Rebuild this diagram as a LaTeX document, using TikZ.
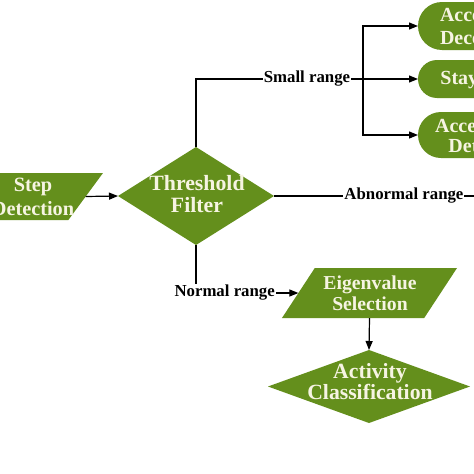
\documentclass[tikz,border=0pt]{standalone}
\usepackage{fontspec}
\setmainfont{Liberation Serif}
\usetikzlibrary{shapes.geometric,arrows.meta}
\definecolor{leaf}{RGB}{100,143,28}
\definecolor{cream}{RGB}{246,244,226}
\begin{document}
\begin{tikzpicture}[x=1pt,y=-1pt,
  shp/.style={fill=leaf, draw=none, inner sep=0pt, outer sep=0pt},
  para/.style={shp, trapezium, trapezium stretches=true},
  dia/.style={shp, diamond},
  pill/.style={shp, rectangle, minimum width=142pt},
  txt/.style={text=cream, align=center, inner sep=0pt},
  lbl/.style={fill=white, text=black, font=\bfseries\fontsize{16.8}{18}\selectfont, inner sep=1pt},
  line/.style={draw=black, line width=1.2pt},
  arr/.style={line, -{Triangle[length=9pt,width=7pt]}}]
\useasboundingbox (0,0) rectangle (474,474);
\clip (0,0) rectangle (474,474);
\fill[white] (0,0) rectangle (474,474);

% shapes
\node[para, trapezium left angle=63.9, trapezium right angle=116.1,
      minimum width=140pt, minimum height=47pt] (sd) at (33,196.5) {\phantom{\rule{2pt}{2pt}}};
\node[txt, font=\bfseries\fontsize{20.3}{24}\selectfont] (sdt) at (33,197) {Step\\Detection};

\node[dia, minimum width=156pt, minimum height=98pt] (tf) at (196,196) {};
\node[txt, font=\bfseries\fontsize{21.8}{22}\selectfont] (tft) at (197,194) {Threshold\\Filter};

\node[pill, minimum height=48pt, rounded corners=24pt] (acc1) at (489,26) {};
\node[txt, font=\bfseries\fontsize{20}{23}\selectfont] (acc1t) at (485,26) {Accelerate\\Decelerate};

\node[pill, minimum height=38pt, rounded corners=19pt] (stay) at (489,79) {};
\node[txt, font=\bfseries\fontsize{20}{23}\selectfont] (stayt) at (479,80) {Stay Still};

\node[pill, minimum height=46pt, rounded corners=23pt] (acc2) at (489,135) {};
\node[txt, font=\bfseries\fontsize{20}{20}\selectfont] (acc2t) at (489,136) {Acceleration\\Detection};

\node[para, trapezium left angle=73.3, trapezium right angle=106.7,
      minimum width=175pt, minimum height=50pt] (eig) at (369.5,293) {\phantom{\rule{2pt}{2pt}}};
\node[txt, font=\bfseries\fontsize{19.7}{21}\selectfont] (eigt) at (370,293) {Eigenvalue\\Selection};

\node[dia, minimum width=202pt, minimum height=73pt] (ac) at (369,386.5) {};
\node[txt, font=\bfseries\fontsize{21.7}{21}\selectfont] (act) at (370,382) {Activity\\Classification};

\coordinate (abn) at (500,196);
\coordinate (j) at (363,79);

% connectors
\draw[arr] (sd.east) -- (tf.west);
\draw[arr] (tf.north) |- node[lbl, pos=0.75] (sr) {Small range} (stay.west);
\draw[arr] (j) |- (acc1.west);
\draw[arr] (j) |- (acc2.west);
\draw[line] (tf.east) -- node[lbl, pos=0.575] (ar) {Abnormal range} (abn);
\draw[arr] (tf.south) |- node[lbl, pos=0.64] (nr) {Normal range} (eig.west);
\draw[arr] (eig.south) -- (ac.north);
\end{tikzpicture}
\end{document}
